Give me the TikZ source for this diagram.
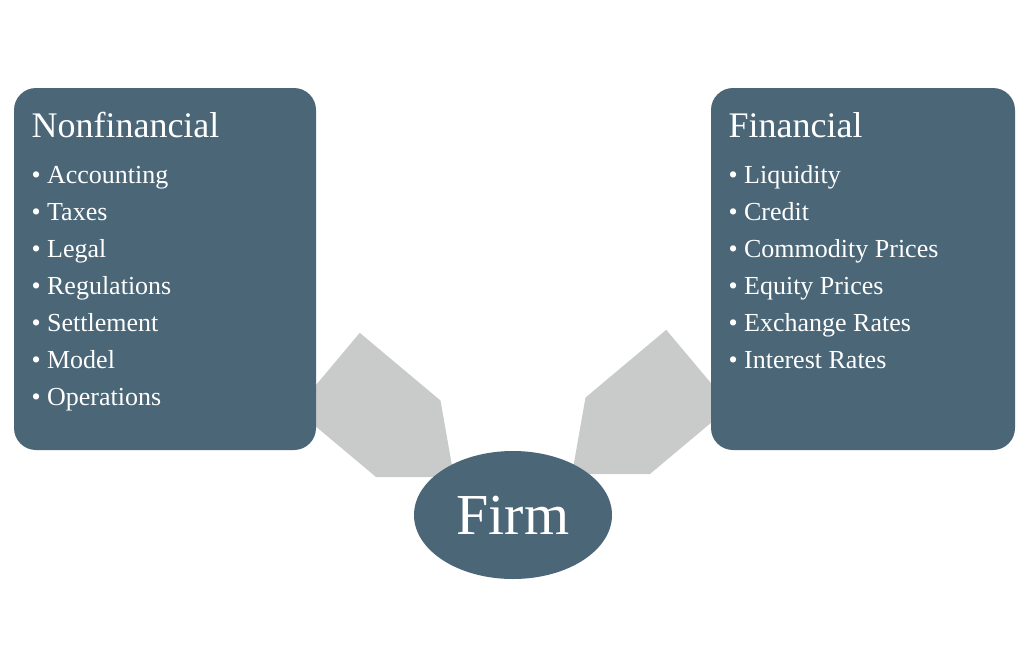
\documentclass[tikz,border=0pt]{standalone}
\usepackage{fontspec}
\setmainfont{Liberation Serif}
\usetikzlibrary{shapes.geometric,shapes.arrows}
\definecolor{boxc}{HTML}{4A6677}
\definecolor{arrc}{HTML}{C9CBCA}
\begin{document}
\begin{tikzpicture}[x=1pt,y=-1pt,
  panel/.style={fill=boxc,rounded corners=22pt},
  bigarrow/.style={single arrow,fill=arrc,minimum height=165pt,minimum width=100pt,single arrow head extend=0pt,single arrow head indent=0pt,inner sep=0pt,single arrow tip angle=80},
  ttl/.style={anchor=base west,text=white,font=\fontsize{36}{36}\selectfont},
  itm/.style={anchor=base west,text=white,font=\fontsize{26}{26}\selectfont}]
\useasboundingbox (0,0) rectangle (1028,667);
\node[bigarrow,rotate=-40] (la) at (368,405) {};
\node[bigarrow,rotate=220] (ra) at (658,402) {};
\fill[panel] (14,88) rectangle (316,450);
\fill[panel] (711,88) rectangle (1015,450);
\node[ellipse,fill=boxc,minimum width=198pt,minimum height=128pt,text=white,font=\fontsize{58}{58}\selectfont] (firm) at (513,515) {Firm};
\node[ttl] (nt) at (28,137) {Nonfinancial};
\foreach \t [count=\i] in {Accounting,Taxes,Legal,Regulations,Settlement,Model,Operations}
  \node[itm] (l\i) at (28,{146+37*\i}) {• \t};
\node[ttl] (ft) at (725,137) {Financial};
\foreach \t [count=\i] in {Liquidity,Credit,Commodity Prices,Equity Prices,Exchange Rates,Interest Rates}
  \node[itm] (r\i) at (725,{146+37*\i}) {• \t};
\end{tikzpicture}
\end{document}
